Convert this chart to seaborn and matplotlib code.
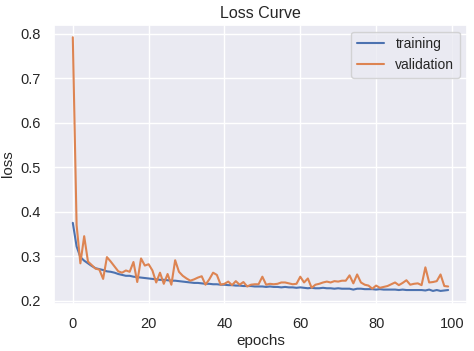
import numpy as np
import pandas as pd
import matplotlib
matplotlib.use("Agg")
import matplotlib.pyplot as plt
import seaborn as sns

# values
epochs = list(range(100))

training = [
    0.375, 0.322, 0.298, 0.290, 0.284, 0.278, 0.273, 0.271, 0.269, 0.266,
    0.265, 0.263, 0.260, 0.258, 0.256, 0.256, 0.254, 0.253, 0.252, 0.251,
    0.250, 0.249, 0.248, 0.247, 0.247, 0.246, 0.245, 0.245, 0.244, 0.243,
    0.242, 0.241, 0.240, 0.240, 0.239, 0.238, 0.238, 0.237, 0.237, 0.236,
    0.236, 0.235, 0.235, 0.234, 0.234, 0.233, 0.233, 0.233, 0.232, 0.232,
    0.232, 0.231, 0.232, 0.231, 0.231, 0.230, 0.231, 0.230, 0.230, 0.229,
    0.230, 0.229, 0.228, 0.229, 0.228, 0.228, 0.229, 0.228, 0.228, 0.227,
    0.228, 0.227, 0.227, 0.227, 0.225, 0.227, 0.227, 0.226, 0.226, 0.226,
    0.225, 0.226, 0.225, 0.225, 0.225, 0.225, 0.224, 0.225, 0.224, 0.224,
    0.224, 0.224, 0.224, 0.223, 0.225, 0.222, 0.224, 0.222, 0.223, 0.224,
]

validation = [
    0.792, 0.370, 0.284, 0.345, 0.288, 0.280, 0.272, 0.270, 0.249, 0.298,
    0.288, 0.277, 0.266, 0.263, 0.268, 0.265, 0.287, 0.242, 0.295, 0.279,
    0.282, 0.268, 0.241, 0.263, 0.238, 0.260, 0.236, 0.291, 0.265, 0.256,
    0.250, 0.245, 0.248, 0.252, 0.255, 0.236, 0.248, 0.263, 0.258, 0.236,
    0.238, 0.243, 0.235, 0.244, 0.236, 0.242, 0.232, 0.236, 0.237, 0.237,
    0.254, 0.236, 0.238, 0.237, 0.238, 0.241, 0.241, 0.239, 0.237, 0.238,
    0.254, 0.241, 0.250, 0.229, 0.236, 0.238, 0.241, 0.243, 0.241, 0.244,
    0.243, 0.245, 0.245, 0.257, 0.239, 0.259, 0.241, 0.236, 0.234, 0.227,
    0.234, 0.229, 0.231, 0.233, 0.237, 0.241, 0.235, 0.240, 0.246, 0.236,
    0.238, 0.239, 0.235, 0.275, 0.241, 0.242, 0.244, 0.259, 0.233, 0.232,
]

sns.set_theme(style="darkgrid")
plt.rcParams["font.family"] = ["Liberation Sans", "DejaVu Sans"]

fig, ax = plt.subplots(figsize=(4.74, 3.51), dpi=100)
fig.subplots_adjust(left=0.114, right=0.985, bottom=0.135, top=0.93)

sns.lineplot(x=epochs, y=training, label="training", ax=ax)
sns.lineplot(x=epochs, y=validation, label="validation", ax=ax)

ax.set_title("Loss Curve", fontsize=11.5, pad=5)
ax.set_xlabel("epochs", fontsize=11, labelpad=2)
ax.set_ylabel("loss", fontsize=11)
ax.tick_params(labelsize=10.5)
ax.legend(loc="upper right", fontsize=10)

fig.savefig("out.png", dpi=100)
